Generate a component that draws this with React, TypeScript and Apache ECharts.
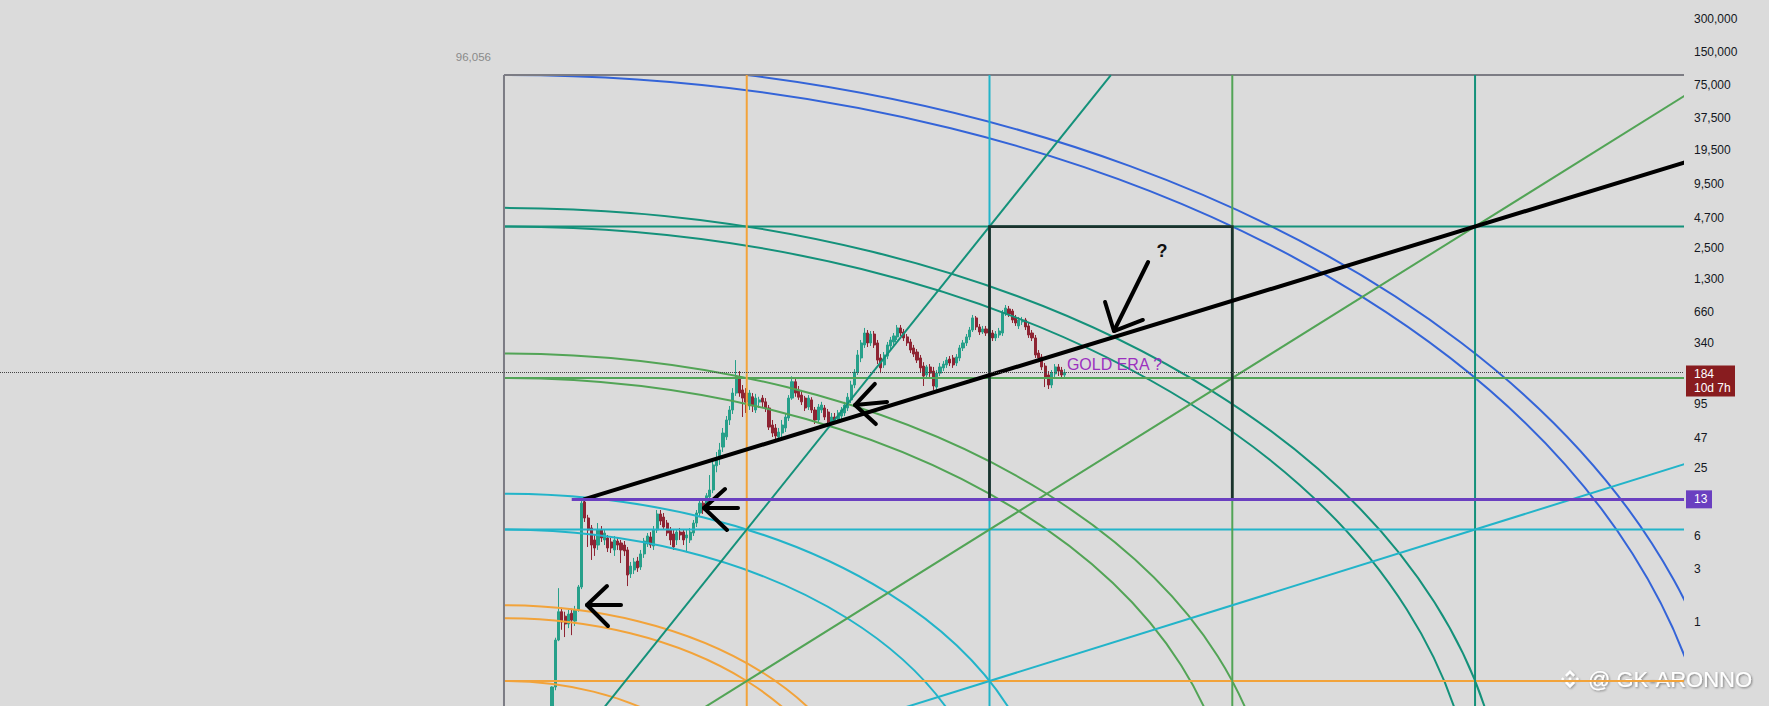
import React, { useEffect, useRef } from "react";
import * as echarts from "echarts";

const FONT = "'Liberation Sans', Arial, sans-serif";

// ---- price scale (log) ----
const priceTicks = [300000, 150000, 75000, 37500, 19500, 9500, 4700, 2500, 1300, 660, 340, 95, 47, 25, 6, 3, 1];
const priceMin = 0.1727;
const priceMax = 444900;

// ---- bar-index window ----
const xMin = -167.88;
const xMax = 344.28;

// ---- candles: [open, close, low, high], one per bar ----
const candles: number[][] = [
  [0.09, 0.257, 0.07, 0.26], [0.257, 0.686, 0.24, 0.72], [0.686, 1.24, 0.67, 2.03], [1.24, 1.0, 0.85, 1.35],
  [1.13, 0.96, 0.73, 1.24], [0.96, 1.18, 0.88, 1.29], [1.2, 1.04, 0.76, 1.32], [1.02, 1.29, 0.92, 1.4],
  [1.29, 2.08, 1.24, 2.17], [2.08, 12.0, 1.99, 13.6], [12.3, 8.8, 8.1, 13.4], [8.8, 6.85, 4.8, 9.4],
  [7.14, 5.0, 3.66, 7.6], [5.56, 4.7, 3.98, 6.17], [5.0, 6.85, 4.51, 7.92], [6.85, 5.8, 5.33, 7.44],
  [5.56, 6.43, 5.0, 6.85], [5.8, 4.7, 4.32, 6.17], [5.33, 4.7, 4.23, 5.8], [4.51, 5.56, 3.98, 6.04],
  [5.44, 5.0, 4.51, 5.8], [5.22, 4.51, 3.43, 5.56], [5.0, 4.42, 3.98, 5.44], [4.51, 2.67, 2.12, 4.8],
  [2.73, 3.22, 2.51, 3.51], [2.97, 3.51, 2.73, 3.82], [3.58, 3.1, 2.85, 3.9], [3.16, 4.15, 2.97, 4.51],
  [4.15, 5.44, 3.82, 5.8], [5.11, 6.04, 4.8, 6.43], [5.92, 5.0, 4.7, 6.56], [4.9, 6.85, 4.51, 7.44],
  [6.85, 9.57, 6.43, 10.4], [9.57, 8.26, 7.6, 10.4], [8.98, 7.29, 6.85, 9.77], [7.92, 6.43, 6.04, 8.44],
  [6.85, 5.56, 5.0, 7.29], [6.3, 4.8, 4.51, 6.85], [5.56, 6.56, 5.0, 6.85], [6.56, 6.17, 5.56, 7.14],
  [6.56, 5.56, 5.0, 6.85], [5.8, 6.17, 4.32, 6.85], [5.56, 6.56, 5.22, 7.14], [6.43, 7.92, 6.04, 8.44],
  [7.92, 9.77, 7.29, 10.4], [9.77, 12.0, 9.18, 12.8], [12.0, 10.4, 9.57, 12.8], [11.0, 14.0, 10.4, 14.8],
  [13.7, 15.8, 12.8, 21.6], [15.8, 26.7, 14.8, 29.6], [26.2, 30.9, 22.9, 35.0], [30.9, 36.5, 26.7, 42.3],
  [38.8, 52.0, 35.0, 57.8], [48.0, 68.3, 45.0, 74.2], [68.3, 84.2, 61.5, 91.5], [84.2, 120, 77.4, 133],
  [120, 170, 113, 239], [167, 120, 111, 190], [128, 108, 72.7, 142], [120, 99.3, 79.1, 133],
  [91.5, 120, 84.2, 128], [111, 91.5, 80.7, 120], [84.2, 108, 79.1, 118], [99.3, 104, 87.8, 111],
  [108, 99.3, 87.8, 115], [99.8, 87.8, 80.7, 108], [87.8, 58.9, 55.4, 93.4], [61.5, 52.0, 47.9, 68.3],
  [57.8, 48.9, 45.0, 62.8], [47.9, 53.1, 44.1, 57.8], [52.0, 61.5, 47.9, 68.3], [57.8, 72.7, 53.1, 79.1],
  [71.2, 108, 66.9, 115], [108, 152, 104, 170], [152, 120, 111, 163], [128, 110, 104, 139],
  [115, 99.8, 93.4, 128], [108, 87.8, 82.4, 113], [89.6, 108, 84.2, 115], [104, 84.2, 79.1, 110],
  [84.2, 68.3, 62.8, 89.6], [68.3, 89.6, 64.1, 95.4], [84.2, 93.4, 79.1, 99.8], [87.8, 72.7, 68.3, 93.4],
  [80.7, 65.5, 61.5, 86.0], [65.5, 72.7, 61.5, 79.1], [72.7, 68.3, 62.8, 79.1], [68.3, 79.1, 64.1, 84.2],
  [74.2, 84.2, 69.7, 89.6], [79.1, 93.4, 74.2, 99.8], [87.8, 110, 82.4, 120], [104, 142, 97.4, 155],
  [142, 186, 133, 198], [186, 266, 175, 295], [250, 342, 229, 364], [328, 421, 308, 468],
  [421, 342, 314, 448], [342, 412, 321, 439], [412, 328, 308, 439], [342, 239, 220, 364],
  [250, 203, 182, 271], [216, 266, 203, 283], [260, 328, 244, 349], [321, 364, 301, 388],
  [349, 396, 328, 421], [388, 468, 364, 498], [468, 421, 396, 498], [430, 380, 356, 458],
  [388, 342, 321, 412], [349, 295, 277, 372], [308, 271, 255, 328], [283, 239, 225, 301],
  [250, 203, 186, 266], [211, 171, 139, 229], [175, 207, 161, 216], [207, 182, 168, 220],
  [190, 139, 128, 207], [136, 182, 125, 194], [182, 207, 171, 225], [203, 220, 190, 234],
  [216, 239, 203, 255], [244, 225, 211, 260], [250, 216, 203, 266], [225, 255, 211, 271],
  [250, 308, 234, 328], [308, 342, 289, 364], [342, 388, 321, 412], [388, 448, 364, 478],
  [448, 577, 430, 614], [577, 478, 448, 601], [478, 430, 404, 508], [430, 458, 412, 488],
  [458, 421, 396, 488], [439, 396, 372, 468], [421, 380, 356, 448], [380, 412, 356, 439],
  [404, 439, 380, 468], [421, 640, 396, 681], [640, 710, 601, 756], [696, 627, 589, 741],
  [667, 553, 519, 696], [577, 519, 488, 614], [488, 553, 458, 589], [531, 553, 498, 589],
  [553, 478, 448, 577], [488, 404, 380, 519], [421, 380, 356, 448], [380, 266, 250, 404],
  [277, 250, 229, 295], [255, 207, 194, 271], [211, 164.6, 136, 225], [175, 142, 130.6, 190],
  [142, 182, 133, 194], [179, 207, 168, 220], [207, 190, 171.5, 220], [194, 175, 164.6, 207],
  [175, 184, 164.6, 198],
];

// ---- Gann square (time levels in bars, price levels) ----
const gannBars = [-14.6, 59.23, 133.06, 206.9, 280.73, 354.56];
const gannPrices = [0.01226, 0.2912, 6.916, 164.3, 3901, 92650];
const gannLevelColors = ["#7c7c84", "#f2a33a", "#22b4c9", "#52a456", "#14917a", "#7c7c84"];
const gannArcs = [[1, 0], [1, 1], [1.5, 0], [2, 0], [2, 1], [3, 0], [3, 1], [4, 0], [4, 1], [5, 0], [5, 1]];
const gannArcColors = ["#f2a33a", "#f2a33a", "#f2a33a", "#22b4c9", "#22b4c9", "#52a456", "#52a456", "#14917a", "#14917a", "#3464d8", "#3464d8"];
const gannFans = [[1, 2], [1, 1], [2, 1]];
const gannFanColors = ["#14917a", "#52a456", "#22b4c9"];
const gannTopLabel = "96,056";

// ---- user drawings ----
const trendBars = [9.7, 280.73];
const trendPrices = [13.0, 3901];
const boxBars = [133.06, 206.9];
const boxPrices = [3901, 13.0];
const rayStartBar = 6;
const rayPrice = 13;
const lastPrice = 184;
const countdown = "10d 7h";

const arrowTips = [[10.64, 1.427], [46.23, 10.85], [92.15, 93.4], [170.9, 439]];
const arrowTails = [[20.99, 1.427], [56.57, 10.85], [101.9, 99.5], [181.3, 1858]];
const arrowWingsA = [[16.73, 2.123], [52.62, 16.13], [98.2, 145], [168.2, 805]];
const arrowWingsB = [[17.03, 0.92], [53.22, 6.85], [98.5, 62.8], [179.7, 553]];

const noteTexts = ["?", "GOLD ERA ?"];
const noteBars = [185.5, 156.6];
const notePrices = [2340, 220];

const tagPrices = [lastPrice, rayPrice];
const tagColors = ["#881c1f", "#6a3fc0"];

echarts.graphic.registerShape(
  "binanceLogo",
  echarts.graphic.extendPath(
    "M12 3L17 8L15.3 9.7L12 6.4L8.7 9.7L7 8Z M12 21L17 16L15.3 14.3L12 17.6L8.7 14.3L7 16Z M3 12L4.7 10.3L6.4 12L4.7 13.7Z M21 12L19.3 10.3L17.6 12L19.3 13.7Z M12 10.3L13.7 12L12 13.7L10.3 12Z",
    {}
  )
);

export default function App() {
  const ref = useRef<HTMLDivElement>(null);

  useEffect(() => {
    if (!ref.current) return;
    const chart = echarts.init(ref.current, null, { renderer: "svg" });

    const gannRender = (params: any, api: any) => {
      const c = (b: number, p: number) => api.coord([b, p]);
      const N = gannBars.length - 1;
      const o = c(gannBars[0], gannPrices[0]);
      const ux = c(gannBars[1], gannPrices[0])[0] - o[0];
      const uy = o[1] - c(gannBars[0], gannPrices[1])[1];
      const children: any[] = [];

      // arcs
      gannArcs.forEach(([a, b], i) => {
        const r = Math.hypot(a, b);
        const sx = o[0] + r * ux;
        const sy = o[1];
        let ex: number, ey: number;
        if (r <= N) {
          ex = o[0];
          ey = o[1] - r * uy;
        } else {
          ex = o[0] + Math.sqrt(r * r - N * N) * ux;
          ey = o[1] - N * uy;
        }
        children.push({
          type: "path",
          shape: { pathData: `M${sx} ${sy}A${r * ux} ${r * uy} 0 0 0 ${ex} ${ey}` },
          style: { stroke: gannArcColors[i], lineWidth: 2, fill: "none" },
        });
      });

      // horizontal levels
      gannPrices.forEach((p, k) => {
        const a = c(gannBars[0], p);
        const b = c(gannBars[N], p);
        children.push({
          type: "line",
          shape: { x1: a[0], y1: a[1], x2: b[0], y2: b[1] },
          style: { stroke: gannLevelColors[k], lineWidth: 2 },
        });
      });
      // vertical levels
      gannBars.forEach((bar, k) => {
        const a = c(bar, gannPrices[0]);
        const b = c(bar, gannPrices[N]);
        children.push({
          type: "line",
          shape: { x1: a[0], y1: a[1], x2: b[0], y2: b[1] },
          style: { stroke: gannLevelColors[k], lineWidth: 2 },
        });
      });
      // fans
      gannFans.forEach(([a, b], i) => {
        const t = Math.min(N / a, N / b);
        children.push({
          type: "line",
          shape: { x1: o[0], y1: o[1], x2: o[0] + a * t * ux, y2: o[1] - b * t * uy },
          style: { stroke: gannFanColors[i], lineWidth: 2 },
        });
      });

      // top price label of the square
      const tl = c(gannBars[0], gannPrices[N]);
      children.push({
        type: "text",
        x: tl[0] - 13,
        y: tl[1] - 18,
        style: { text: gannTopLabel, fill: "#8a8a8a", fontSize: 11.5, fontFamily: FONT, align: "right", verticalAlign: "middle" },
      });

      // user box
      const b0 = c(boxBars[0], boxPrices[0]);
      const b1 = c(boxBars[1], boxPrices[1]);
      children.push({
        type: "rect",
        shape: { x: b0[0], y: b0[1], width: b1[0] - b0[0], height: b1[1] - b0[1] },
        style: { stroke: "#1a322c", lineWidth: 2.8, fill: "none" },
      });

      // trend ray
      const t1 = c(trendBars[0], trendPrices[0]);
      const t2 = c(trendBars[1], trendPrices[1]);
      const right = params.coordSys.x + params.coordSys.width;
      const slope = (t2[1] - t1[1]) / (t2[0] - t1[0]);
      children.push({
        type: "line",
        shape: { x1: t1[0], y1: t1[1], x2: right, y2: t1[1] + slope * (right - t1[0]) },
        style: { stroke: "#000", lineWidth: 4, lineCap: "round" },
      });

      // arrows
      arrowTips.forEach((tip, i) => {
        const p = c(tip[0], tip[1]);
        const tail = c(arrowTails[i][0], arrowTails[i][1]);
        const wa = c(arrowWingsA[i][0], arrowWingsA[i][1]);
        const wb = c(arrowWingsB[i][0], arrowWingsB[i][1]);
        children.push({
          type: "polyline",
          shape: { points: [tail, p] },
          style: { stroke: "#000", lineWidth: 4, lineCap: "round", fill: "none" },
        });
        children.push({
          type: "polyline",
          shape: { points: [wa, p, wb] },
          style: { stroke: "#000", lineWidth: 4, lineCap: "round", lineJoin: "round", fill: "none" },
        });
      });

      // notes
      noteTexts.forEach((txt, i) => {
        const p = c(noteBars[i], notePrices[i]);
        const isQ = i === 0;
        children.push({
          type: "text",
          x: p[0],
          y: p[1],
          style: {
            text: txt,
            fill: isQ ? "#111" : "#9b30bf",
            fontSize: isQ ? 18 : 16,
            fontWeight: isQ ? "bold" : "normal",
            fontFamily: FONT,
            align: isQ ? "center" : "left",
            verticalAlign: "middle",
          },
        });
      });

      return { type: "group", children };
    };

    const tagRender = (params: any, api: any) => {
      const i = params.dataIndex;
      const p = api.coord([api.value(0), api.value(1)]);
      const x = params.coordSys.x + params.coordSys.width + 2;
      if (i === 0) {
        return {
          type: "group",
          children: [
            { type: "rect", shape: { x, y: p[1] - 7, width: 49, height: 31 }, style: { fill: tagColors[0] } },
            {
              type: "text",
              x: x + 8,
              y: p[1] - 6,
              style: { text: `${lastPrice}\n${countdown}`, fill: "#fff", fontSize: 12, lineHeight: 14.5, fontFamily: FONT, verticalAlign: "top" },
            },
          ],
        };
      }
      return {
        type: "group",
        children: [
          { type: "rect", shape: { x, y: p[1] - 9, width: 26, height: 18 }, style: { fill: tagColors[1] } },
          {
            type: "text",
            x: x + 8,
            y: p[1],
            style: { text: String(rayPrice), fill: "#fff", fontSize: 12, fontFamily: FONT, verticalAlign: "middle" },
          },
        ],
      };
    };

    const option: any = {
      animation: false,
      backgroundColor: "#dbdbdb",
      textStyle: { fontFamily: FONT },
      grid: { left: 0, top: 0, right: 85, bottom: 0 },
      xAxis: { type: "value", min: xMin, max: xMax, show: false },
      yAxis: {
        type: "log",
        logBase: 2,
        min: priceMin,
        max: priceMax,
        position: "right",
        axisLine: { show: false },
        axisTick: { show: false },
        splitLine: { show: false },
        axisLabel: {
          customValues: priceTicks,
          margin: 10,
          color: "#131722",
          fontSize: 12,
          fontFamily: FONT,
          formatter: (v: number) => Math.round(v).toLocaleString("en-US"),
        },
      },
      series: [
        {
          type: "candlestick",
          z: 2,
          barWidth: 2.6,
          encode: { x: 0, y: [1, 2, 3, 4] },
          data: candles.map((d, i) => [i, d[0], d[1], d[2], d[3]]),
          itemStyle: { color: "#27a08a", color0: "#8e2433", borderColor: "#27a08a", borderColor0: "#8e2433", borderWidth: 1 },
          markLine: {
            silent: true,
            symbol: ["none", "none"],
            label: { show: false },
            data: [
              { yAxis: lastPrice, lineStyle: { color: "#444", type: "dotted", width: 1 } },
              [
                { coord: [rayStartBar, rayPrice], lineStyle: { color: "#6a3fc0", type: "solid", width: 3 } },
                { coord: [xMax, rayPrice] },
              ],
            ],
          },
        },
        {
          type: "custom",
          z: 3,
          clip: true,
          silent: true,
          data: [[0, 1]],
          renderItem: gannRender,
        },
        {
          type: "custom",
          z: 10,
          clip: false,
          silent: true,
          data: tagPrices.map((p) => [xMax, p]),
          renderItem: tagRender,
        },
      ],
      graphic: [
        {
          type: "group",
          left: 1561,
          top: 668,
          children: [
            {
              type: "binanceLogo",
              x: 0,
              y: 0,
              scaleX: 1,
              scaleY: 1,
              style: { fill: "#fff", shadowColor: "rgba(0,0,0,0.35)", shadowBlur: 2, shadowOffsetX: 1, shadowOffsetY: 1 },
            },
            {
              type: "text",
              x: 30,
              y: 12,
              style: {
                text: "@ GK-ARONNO",
                fill: "#ffffff",
                fontSize: 22,
                fontFamily: FONT,
                verticalAlign: "middle",
                textShadowColor: "rgba(0,0,0,0.45)",
                textShadowBlur: 2,
                textShadowOffsetX: 1,
                textShadowOffsetY: 1,
              },
            },
          ],
        },
      ],
    };

    chart.setOption(option);
    return () => chart.dispose();
  }, []);

  return (
    <div
      ref={ref}
      style={{ position: "fixed", left: 0, top: 0, width: 1769, height: 706, background: "#dbdbdb" }}
    />
  );
}
